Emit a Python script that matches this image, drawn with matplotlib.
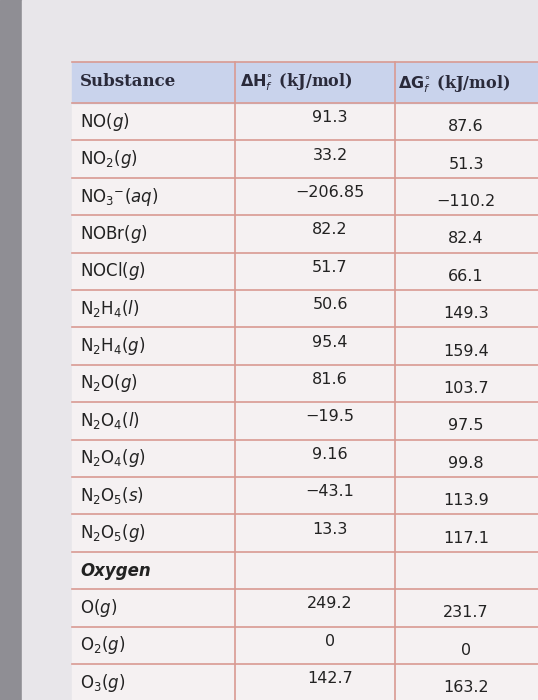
import matplotlib.pyplot as plt
from matplotlib.patches import Rectangle

substances = [r'NO($g$)', r'NO$_2$($g$)', r'NO$_3$$^{-}$($aq$)', r'NOBr($g$)', r'NOCl($g$)',
              r'N$_2$H$_4$($l$)', r'N$_2$H$_4$($g$)', r'N$_2$O($g$)', r'N$_2$O$_4$($l$)',
              r'N$_2$O$_4$($g$)', r'N$_2$O$_5$($s$)', r'N$_2$O$_5$($g$)', 'Oxygen',
              r'O($g$)', r'O$_2$($g$)', r'O$_3$($g$)']
dH = ['91.3', '33.2', '\u2212206.85', '82.2', '51.7', '50.6', '95.4', '81.6', '\u221219.5',
      '9.16', '\u221243.1', '13.3', '', '249.2', '0', '142.7']
dG = ['87.6', '51.3', '\u2212110.2', '82.4', '66.1', '149.3', '159.4', '103.7', '97.5',
      '99.8', '113.9', '117.1', '', '231.7', '0', '163.2']

fig = plt.figure(figsize=(5.38, 7), dpi=100)
fig.patch.set_facecolor('#e4e2e4')
ax = fig.add_axes([0, 0, 1, 1])
ax.set_xlim(0, 538)
ax.set_ylim(700, 0)
ax.axis('off')

# page edge shadow on the left
ax.add_patch(Rectangle((0, 0), 22, 700, color='#8f8e94'))
ax.add_patch(Rectangle((22, 0), 516, 700, color='#e8e6ea'))

# table body and header
ax.add_patch(Rectangle((72, 103), 466, 600, color='#f5f1f2'))
ax.add_patch(Rectangle((72, 62), 466, 41, color='#c9d3ec'))

row_h = 37.4
y0 = 103
for i in range(len(substances) + 1):
    y = y0 + i * row_h
    ax.plot([72, 538], [y, y], color='#d99a92', lw=1.2)
for x in [235, 395]:
    ax.plot([x, x], [62, 700], color='#d99a92', lw=1.2)
ax.plot([72, 538], [62, 62], color='#d99a92', lw=1.2)

ax.text(80, 82, 'Substance', fontsize=12, fontweight='bold', family='DejaVu Serif',
        color='#2a2a3a', va='center')
ax.text(240, 82, r'$\mathbf{\Delta}\mathit{\mathbf{H}}_f^{\circ}$ (kJ/mol)', fontsize=11.5,
        fontweight='bold', family='DejaVu Serif', color='#2a2a3a', va='center')
ax.text(398, 84, r'$\mathbf{\Delta}\mathit{\mathbf{G}}_f^{\circ}$ (kJ/mol)', fontsize=11.5,
        fontweight='bold', family='DejaVu Serif', color='#2a2a3a', va='center')

for i, (s, h, g) in enumerate(zip(substances, dH, dG)):
    yc = y0 + i * row_h + row_h * 0.5
    if s == 'Oxygen':
        ax.text(80, yc, s, fontsize=12, fontweight='bold', style='italic',
                color='#222', va='center')
        continue
    ax.text(80, yc, s, fontsize=12, color='#222', va='center')
    ax.text(330, yc - 4, h, fontsize=11.5, color='#222', va='center', ha='center')
    ax.text(466, yc + 5, g, fontsize=11.5, color='#222', va='center', ha='center')

fig.savefig('out.png', dpi=100)
